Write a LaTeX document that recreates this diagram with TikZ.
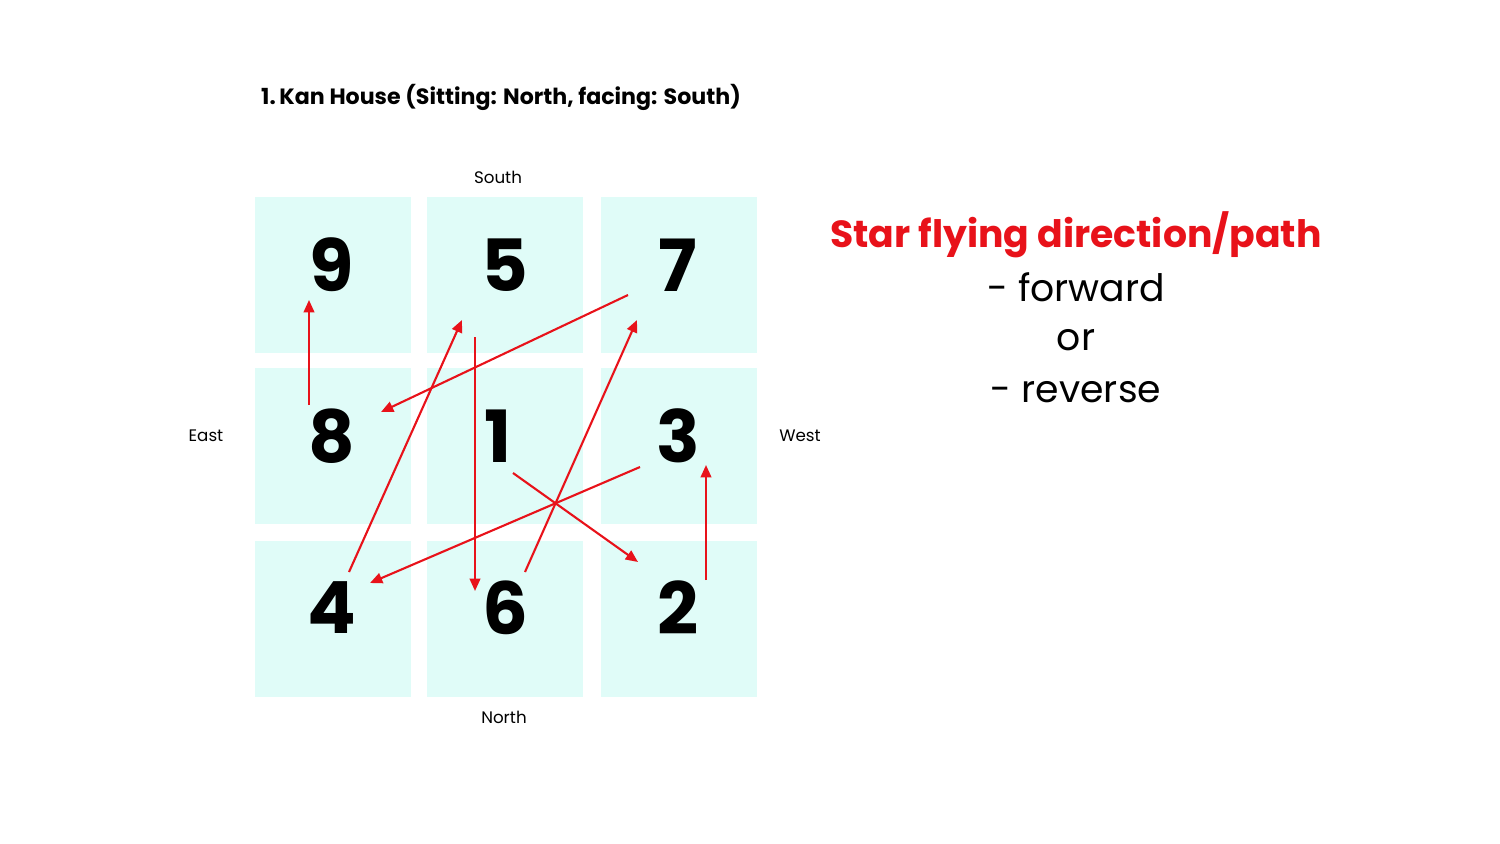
\documentclass[tikz,border=0pt]{standalone}
\usepackage{fontspec}
\setmainfont{Poppins}
\usetikzlibrary{arrows.meta}
\definecolor{cellc}{HTML}{E0FCF8}
\definecolor{myred}{HTML}{E8121A}
\begin{document}
\begin{tikzpicture}[x=0.02cm,y=-0.02cm,
  cell/.style={fill=cellc,draw=none},
  num/.style={font=\fontsize{41}{41}\selectfont\bfseries},
  lab/.style={font=\fontsize{9.5}{11}\selectfont},
  arr/.style={draw=myred,line width=1.2pt,-{Triangle[length=7pt,width=6pt]}}]
\useasboundingbox (0,0) rectangle (1500,844);
\foreach \x/\y/\n in {255/197/c1,427/197/c2,601/197/c3,255/368/c4,427/368/c5,601/368/c6,255/541/c7,427/541/c8,601/541/c9}
  \fill[cellc] (\x,\y) rectangle ++(156,156);
\node[num] (n9) at (332,265) {9};
\node[num] (n5) at (505,265) {5};
\node[num] (n7) at (678,265) {7};
\node[num] (n8) at (332,436) {8};
\node[num] (n1) at (498,436) {1};
\node[num] (n3) at (678,436) {3};
\node[num] (n4) at (332,608) {4};
\node[num] (n6) at (505,608) {6};
\node[num] (n2) at (678,608) {2};
\coordinate (a1) at (309,405); \coordinate (b1) at (309,300);
\coordinate (a2) at (628,295); \coordinate (b2) at (381,412);
\coordinate (a3) at (349,572); \coordinate (b3) at (462,320);
\coordinate (a4) at (475,337); \coordinate (b4) at (475,591);
\coordinate (a5) at (525,572); \coordinate (b5) at (637,320);
\coordinate (a6) at (513,473); \coordinate (b6) at (638,562);
\coordinate (a7) at (640,467); \coordinate (b7) at (370,583);
\coordinate (a8) at (706,580); \coordinate (b8) at (706,465);
\foreach \i in {1,...,8} \draw[arr] (a\i) -- (b\i);
\node[anchor=west,font=\fontsize{12.6}{15}\selectfont\bfseries] (title) at (255,97) {1.\,Kan House (Sitting: North, facing: South)};
\node[lab] (s) at (498,177) {South};
\node[lab] (no) at (504,717) {North};
\node[lab] (e) at (206,436) {East};
\node[lab] (w) at (800,436) {West};
\node[font=\fontsize{21.5}{24}\selectfont\bfseries,text=myred] (t1) at (1076,235) {Star flying direction/path};
\node[font=\fontsize{21.5}{24}\selectfont\mdseries] (t2) at (1076,287) {- forward};
\node[font=\fontsize{21.5}{24}\selectfont\mdseries] (t3) at (1076,340) {or};
\node[font=\fontsize{21.5}{24}\selectfont\mdseries] (t4) at (1076,392) {- reverse};
\end{tikzpicture}
\end{document}
